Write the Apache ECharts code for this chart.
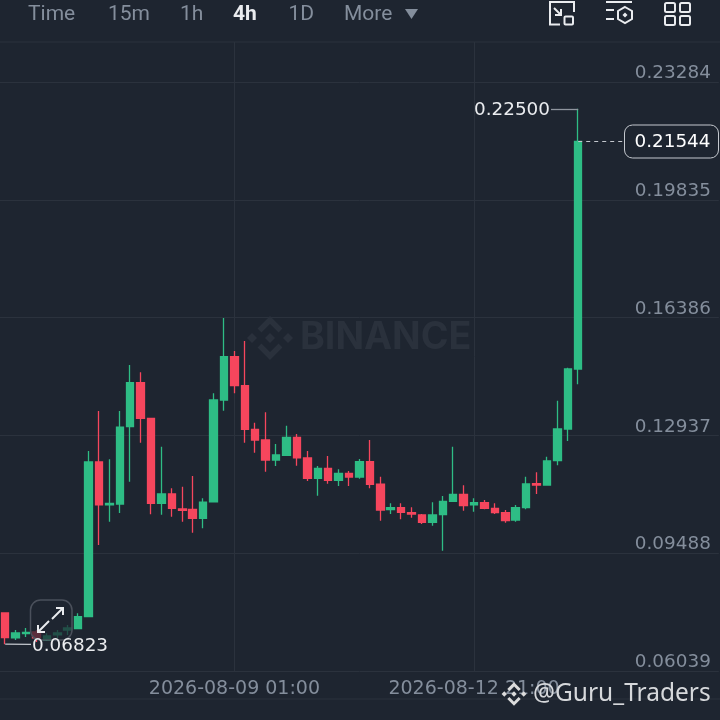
<!DOCTYPE html>
<html>
<head>
<meta charset="utf-8">
<style>html,body{margin:0;padding:0;background:#1e2530}#c{width:720px;height:720px}</style>
<script src="https://cdn.jsdelivr.net/npm/echarts@6/dist/echarts.min.js"></script>
</head>
<body>
<div id="c"></div>
<script>
const opens = [.07738,.07006,.07137,.07181,.06947,.07094,.0724,.07278,.07629,.12159,.109,.10929,.13192,.1448,.13438,.10949,.11222,.10782,.10773,.1051,.10988,.13974,.15241,.14393,.13116,.12803,.12217,.12355,.12882,.12276,.11681,.11974,.11623,.11828,.11719,.12167,.11506,.10762,.10821,.10674,.10607,.10393,.10616,.11008,.11213,.109,.10967,.10803,.10674,.1046,.10821,.11523,.11485,.12197,.13125,.14881];
const closes = [.07014,.07152,.07167,.07006,.07064,.07152,.07298,.07629,.12159,.109,.10949,.13175,.1448,.13438,.10949,.11222,.10803,.10744,.1051,.10979,.13974,.15241,.14393,.13116,.12803,.12217,.12364,.12882,.12276,.11681,.11974,.11623,.11828,.11719,.12167,.11506,.10753,.10821,.10686,.10636,.10393,.10607,.11008,.11213,.10879,.10967,.10803,.10674,.1044,.10821,.11514,.11485,.12188,.13125,.14881,.21544];
const lows = [.06823,.06947,.07035,.06889,.06918,.07006,.07094,.07269,.0762,.09728,.10411,.10665,.11582,.12724,.10627,.10616,.10557,.10411,.10089,.10217,.10973,.13661,.1417,.12724,.12431,.11875,.12041,.12334,.1205,.11602,.11172,.11523,.11456,.11456,.1167,.11389,.1044,.10636,.10481,.10528,.10343,.10294,.09562,.10988,.10733,.10704,.10773,.10636,.10381,.10411,.10773,.11222,.11465,.12062,.12773,.14433];
const highs = [.07738,.0724,.07298,.0724,.07143,.0724,.07386,.07729,.12481,.13652,.12238,.13652,.14999,.14785,.13447,.12606,.11389,.11435,.11749,.11096,.1417,.16375,.15408,.15701,.13309,.13614,.12686,.13221,.12978,.12481,.12041,.12334,.11945,.11895,.12246,.12803,.11728,.10949,.10949,.10832,.10636,.10979,.11163,.12606,.11476,.11096,.11046,.10949,.10753,.109,.11728,.11857,.12314,.13953,.14919,.225];
const priceTicks = [.06039,.09488,.12937,.16386,.19835,.23284];
const timeLabels = {22:'2026-08-09 01:00',45:'2026-08-12 21:00'};
const emptySlots = 13;
const headerItems = [['Time',28],['15m',108],['1h',180],['4h',233],['1D',288.5],['More',344]];

const BG='#1e2530', GRID='#2b323d', GRAY='#848e9c', GREEN='#2ebd85', RED='#f6465d';
const categories = opens.map((_,i)=>'c'+i).concat(Array.from({length:emptySlots},(_,i)=>'e'+i));
const candleData = opens.map((o,i)=>[o,closes[i],lows[i],highs[i]]);
const lastIdx = opens.length-1;

function line(x1,y1,x2,y2,color,w,z){return {type:'line',silent:true,z:z||10,shape:{x1,y1,x2,y2},style:{stroke:color,lineWidth:w||1}};}
function poly(points,color,w,z){return {type:'polyline',silent:true,z:z||10,shape:{points},style:{stroke:color,lineWidth:w||2,fill:null}};}
function rect(x,y,w,h,r,stroke,fill,lw,z){return {type:'rect',silent:true,z:z||10,shape:{x,y,width:w,height:h,r},style:{stroke:stroke||null,fill:fill||null,lineWidth:lw||1}};}
function text(t,x,y,font,color,align,z){return {type:'text',silent:true,z:z||20,x,y,style:{text:t,font,fill:color,align:align||'left',verticalAlign:'middle'}};}
function logo(cx,cy,s,color,z){
  const diamond=(dx,dy,r)=>({type:'polygon',silent:true,z,shape:{points:[[cx+dx*s,cy+(dy-r)*s],[cx+(dx+r)*s,cy+dy*s],[cx+dx*s,cy+(dy+r)*s],[cx+(dx-r)*s,cy+dy*s]]},style:{fill:color}});
  const chev=(sg)=>poly([[cx-.42*s,cy+sg*.3*s],[cx,cy+sg*.72*s],[cx+.42*s,cy+sg*.3*s]],color,.22*s,z);
  return [diamond(0,0,.2),diamond(-.72,0,.2),diamond(.72,0,.2),chev(-1),chev(1)];
}
const MONO='"DejaVu Sans"';
const gfx=[
  line(0,42,720,42,GRID,1,1),
  line(0,699,720,699,GRID,1,1),
  ...logo(270,338,25,'#2a313c',1),
  text('BINANCE',300,338,'bold 37.6px Inter','#2a313c','left',1),
  ...headerItems.map(([t,x])=>text(t,x,15,(t==='4h'?'bold ':'')+'21px Roboto',t==='4h'?'#eaecef':GRAY)),
  {type:'polygon',silent:true,z:20,shape:{points:[[405,9],[418,9],[411.5,19]]},style:{fill:GRAY}},
  poly([[574,12],[574,2],[550,2],[550,24.5],[560,24.5]],'#eaecef',2),
  rect(564.5,16.5,8.5,8,1,'#eaecef',null,2),
  poly([[554,8],[561,15]],'#eaecef',2),
  poly([[561,9],[561,15],[555,15]],'#eaecef',2),
  line(606,2,632,2,'#eaecef',2),
  line(606,10,614,10,'#eaecef',2),
  line(606,19,614,19,'#eaecef',2),
  {type:'polygon',silent:true,z:20,shape:{points:[[625,7],[632,11],[632,19],[625,23],[618,19],[618,11]]},style:{stroke:'#eaecef',lineWidth:2,fill:null}},
  {type:'polygon',silent:true,z:20,shape:{points:[[625,12.5],[627.5,15],[625,17.5],[622.5,15]]},style:{fill:'#eaecef'}},
  rect(665,3,10,9,1.5,'#eaecef',null,2),rect(680,3,10,9,1.5,'#eaecef',null,2),
  rect(665,16,10,9,1.5,'#eaecef',null,2),rect(680,16,10,9,1.5,'#eaecef',null,2),
  rect(30.5,600,41.5,40,10,'#4a505b','rgba(30,37,48,.72)',1.5,15),
  poly([[52,619],[63,608]],'#eaecef',2,16),poly([[56,608],[63,608],[63,615]],'#eaecef',2,16),
  poly([[49,621],[38,632]],'#eaecef',2,16),poly([[38,625],[38,632],[45,632]],'#eaecef',2,16),
  text('0.06823',32,646,'18.4px '+MONO,'#eaecef'),
  text('0.22500',550,110,'18.4px '+MONO,'#eaecef','right'),
  rect(624.5,125,94,33,8,'#c4c8ce',BG,1,15),
  text('0.21544',672.5,142.5,'18.4px '+MONO,'#ffffff','center'),
  ...logo(514,694,13.5,'#dcdcdc',20),
  text('@Guru_Traders',533,694,'24.5px "Noto Sans"','#d6d8db')
];

const chart=echarts.init(document.getElementById('c'),null,{renderer:'canvas'});
chart.setOption({
  animation:false,
  backgroundColor:BG,
  grid:{left:-2.2,width:721.05,top:42,bottom:49,containLabel:false},
  xAxis:{type:'category',data:categories,boundaryGap:true,
    axisLine:{show:false},axisTick:{show:false,alignWithLabel:true},
    axisLabel:{show:true,hideOverlap:false,interval:(i)=>timeLabels[i]!==undefined,formatter:(v,i)=>timeLabels[i]||'',
      color:GRAY,fontFamily:MONO,fontSize:19,margin:9},
    splitLine:{show:true,alignWithLabel:true,interval:(i)=>timeLabels[i]!==undefined,lineStyle:{color:GRID,width:1}}},
  yAxis:{type:'value',position:'right',min:.06039,max:.24455,scale:true,
    axisLine:{show:false},
    axisTick:{show:false,customValues:priceTicks},
    axisLabel:{inside:true,customValues:priceTicks,formatter:(v)=>v.toFixed(5),color:GRAY,fontFamily:MONO,fontSize:18.4,margin:8,verticalAlign:'bottom',lineHeight:17,showMinLabel:true,showMaxLabel:true},
    splitLine:{show:true,lineStyle:{color:GRID,width:1}}},
  series:[{type:'candlestick',data:candleData,barWidth:8,
    itemStyle:{color:GREEN,color0:RED,borderColor:GREEN,borderColor0:RED,borderWidth:1.3},
    markLine:{silent:true,symbol:'none',animation:false,label:{show:false},
      data:[
        [{coord:['c'+lastIdx,highs[lastIdx]],lineStyle:{color:'#8f959e',width:1.3,type:'solid'}},{x:551,y:108.9}],
        [{coord:['c'+lastIdx,closes[lastIdx]],lineStyle:{color:'#c4c8ce',width:1,type:[4,4]}},{x:624,y:141.7}],
        [{coord:['c0',lows[0]],lineStyle:{color:'#c4c8ce',width:1.3,type:'solid'}},{x:31,y:644.3}]
      ]}
  }],
  graphic:{elements:gfx}
});
</script>
</body>
</html>
